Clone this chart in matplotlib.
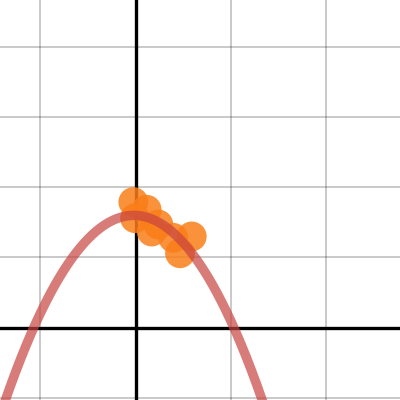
import numpy as np
import matplotlib
matplotlib.use("Agg")
import matplotlib.pyplot as plt

# data points
pts_x = [-0.025, 0.115, -0.007, 0.237, 0.394, 0.588, 0.465, 0.168]
pts_y = [1.79, 1.68, 1.56, 1.47, 1.28, 1.30, 1.06, 1.37]

# fitted curve y = c - a*(x - h)^2
curve_c = 1.60
curve_a = 1.45
curve_h = -0.02

grid_x = [-1, 1, 2]
grid_y = [-1, 1, 2, 3, 4]

fig = plt.figure(figsize=(4, 4), dpi=100)
ax = fig.add_axes([0, 0, 1, 1])
ax.set_xlim(-1.424, 2.773)
ax.set_ylim(-1.03, 4.668)
ax.axis('off')

for gx in grid_x:
    ax.axvline(gx, color='black', alpha=0.27, lw=1.1, zorder=1)
for gy in grid_y:
    ax.axhline(gy, color='black', alpha=0.27, lw=1.1, zorder=1)
ax.axvline(0, color='black', lw=2.4, zorder=2)
ax.axhline(0, color='black', lw=2.4, zorder=2)

xs = np.linspace(-1.5, 2.8, 400)
ys = curve_c - curve_a * (xs - curve_h) ** 2
ax.scatter(pts_x, pts_y, s=460, color='#fa7e19', alpha=0.85, edgecolors='none', zorder=3)
ax.plot(xs, ys, color='#c74440', alpha=0.7, lw=6.8, solid_capstyle='round', zorder=4)

fig.savefig('out.png', dpi=100)
